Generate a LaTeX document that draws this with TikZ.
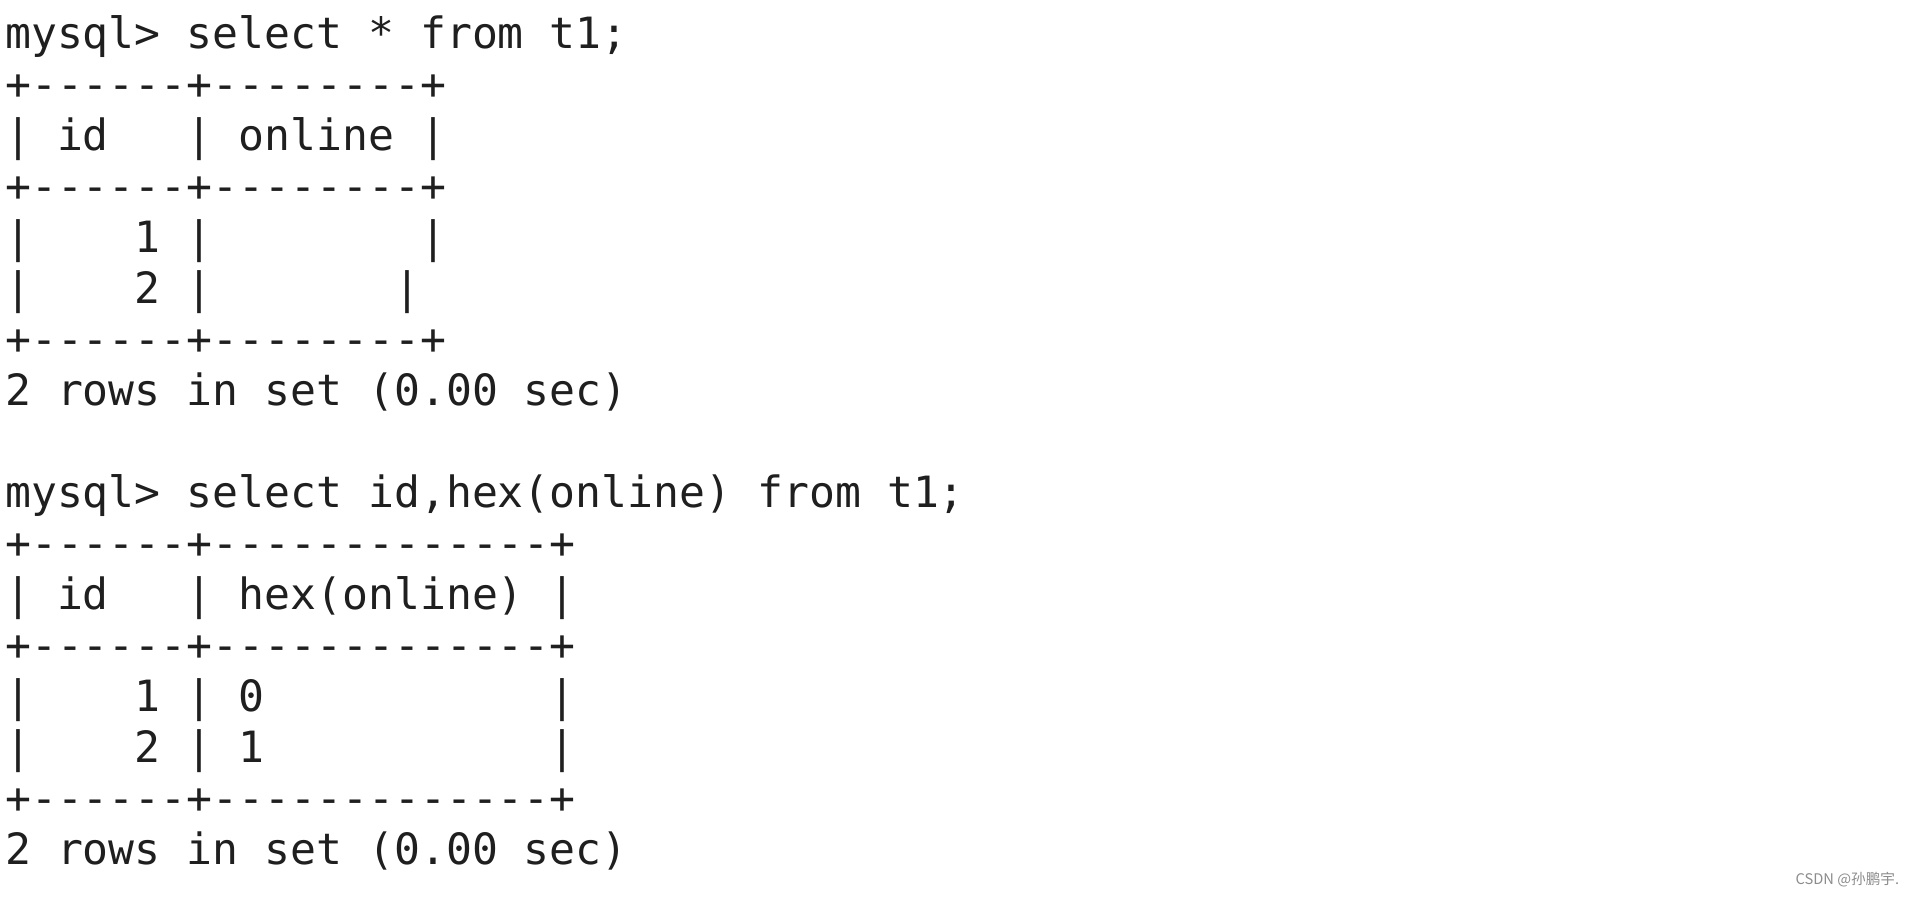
\documentclass[tikz,border=0pt]{standalone}
\usepackage{fontspec}
\setmonofont{DejaVu Sans Mono}
\newfontfamily\cjk{Noto Sans CJK SC}
\begin{document}
\begin{tikzpicture}[x=1pt,y=-1pt,
  tl/.style={anchor=base west,inner sep=0pt,font=\ttfamily\fontsize{35.3}{42}\selectfont,text=black!88}]
\useasboundingbox[fill=white] (0,0) rectangle (1568,735);
\def\L{41.75}
\foreach \t [count=\i from 0] in {
 {mysql>~select~*~from~t1;},
 {+------+--------+},
 {|~id~~~|~online~|},
 {+------+--------+},
 {|~~~~1~|~~~~~~~~|},
 {|~~~~2~|~~~~~~~|},
 {+------+--------+},
 {2~rows~in~set~(0.00~sec)},
 {},
 {mysql>~select~id,hex(online)~from~t1;},
 {+------+-------------+},
 {|~id~~~|~hex(online)~|},
 {+------+-------------+},
 {|~~~~1~|~0~~~~~~~~~~~|},
 {|~~~~2~|~1~~~~~~~~~~~|},
 {+------+-------------+},
 {2~rows~in~set~(0.00~sec)}}
 { \node[tl] (l\i) at (4,{40+\i*\L}) {\t}; }
\node[anchor=east,inner sep=0pt,text=black!45,font=\cjk\fontsize{12}{14}\selectfont] (wm) at (1556,721) {CSDN @孙鹏宇.};
\end{tikzpicture}
\end{document}
